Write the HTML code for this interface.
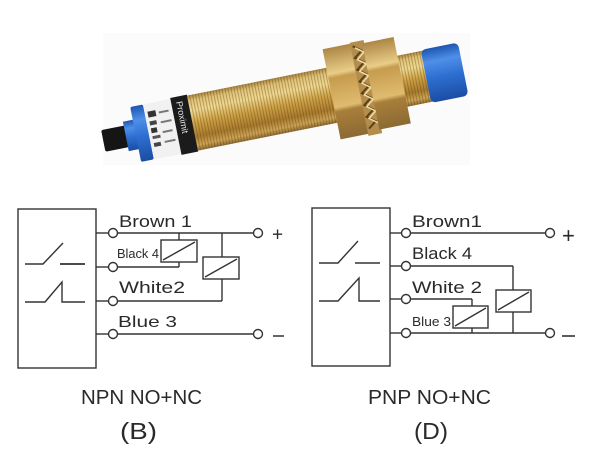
<!DOCTYPE html>
<html><head><meta charset="utf-8"><style>
html,body{margin:0;padding:0;background:#fff;}
svg{display:block;}
text{font-family:"Liberation Sans",Arial,sans-serif;fill:#2a2a2a;}
</style></head><body>
<svg width="600" height="469" viewBox="0 0 600 469" xmlns="http://www.w3.org/2000/svg">
<defs>
<linearGradient id="gold" x1="0" y1="0" x2="0" y2="1">
<stop offset="0" stop-color="#a8843c"/>
<stop offset="0.1" stop-color="#e0c47a"/>
<stop offset="0.28" stop-color="#f0da92"/>
<stop offset="0.5" stop-color="#cfa447"/>
<stop offset="0.75" stop-color="#a87b2e"/>
<stop offset="0.9" stop-color="#cda556"/>
<stop offset="1" stop-color="#8c6a30"/>
</linearGradient>
<linearGradient id="nut" x1="0" y1="0" x2="0" y2="1">
<stop offset="0" stop-color="#ad8645"/>
<stop offset="0.28" stop-color="#e8cd88"/>
<stop offset="0.33" stop-color="#c69c4e"/>
<stop offset="0.65" stop-color="#dfbb70"/>
<stop offset="0.7" stop-color="#a87e3a"/>
<stop offset="1" stop-color="#8c6a34"/>
</linearGradient>
<linearGradient id="blue" x1="0" y1="0" x2="0" y2="1">
<stop offset="0" stop-color="#1d56b0"/>
<stop offset="0.25" stop-color="#4f8fe8"/>
<stop offset="0.55" stop-color="#2e6fd2"/>
<stop offset="1" stop-color="#1a4ea3"/>
</linearGradient>
<pattern id="thr" patternUnits="userSpaceOnUse" width="3" height="10">
<line x1="0.5" y1="0" x2="0.5" y2="10" stroke="rgba(90,55,10,0.35)" stroke-width="1.1"/>
</pattern>
</defs>

<!-- photo background -->
<rect x="103" y="33" width="367" height="132" fill="#fbfbfb"/>

<!-- sensor -->
<g transform="translate(118,138) rotate(-11.3)">
<rect x="-15" y="-11" width="26" height="22" rx="2" fill="#151515"/>
<rect x="8" y="-15" width="14" height="30" fill="url(#blue)"/>
<rect x="18" y="-28" width="13" height="56" rx="2" fill="url(#blue)"/>
<rect x="31" y="-28" width="29" height="56" fill="#f1f1f1"/>
<rect x="34" y="-20" width="8" height="6" fill="#333"/>
<rect x="34" y="-10" width="7" height="4" fill="#444"/>
<rect x="34" y="-3" width="6" height="5" fill="#333"/>
<rect x="34" y="5" width="8" height="3" fill="#555"/>
<rect x="34" y="12" width="7" height="4" fill="#444"/>
<rect x="45" y="-18" width="10" height="2" fill="#777"/>
<rect x="45" y="-8" width="11" height="2" fill="#777"/>
<rect x="45" y="2" width="10" height="2" fill="#777"/>
<rect x="45" y="12" width="11" height="2" fill="#777"/>
<rect x="59" y="-29" width="17" height="58" fill="#1b1b1b"/>
<text x="-24" y="-64" transform="rotate(90)" font-size="9" style="fill:#e8e8e8">Proximit</text>
<rect x="76" y="-28" width="146" height="56" fill="url(#gold)"/>
<rect x="76" y="-28" width="146" height="56" fill="url(#thr)"/>
<rect x="288" y="-26" width="30" height="52" fill="url(#gold)"/>
<rect x="288" y="-26" width="30" height="52" fill="url(#thr)"/>
<rect x="218" y="-47" width="30" height="92" fill="url(#nut)"/>
<rect x="246" y="-48" width="14" height="95" fill="#b48c4c"/>
<polyline points="248,-44 256,-38 248,-32 256,-26 248,-20 256,-14 248,-8 256,-2 248,4 256,10 248,16 256,22 248,28 256,34 248,40" fill="none" stroke="#5a4218" stroke-width="2"/>
<polyline points="250,-42 258,-36 250,-30 258,-24 250,-18 258,-12 250,-6 258,0 250,6 258,12 250,18 258,24 250,30 258,36" fill="none" stroke="#f1dea6" stroke-width="1.5"/>
<rect x="258" y="-45" width="32" height="88" fill="url(#nut)"/>
<rect x="314" y="-27" width="38" height="54" rx="5" fill="url(#blue)"/>
</g>

<g stroke="#333" stroke-width="1.4" fill="none">
<!-- LEFT DIAGRAM -->
<rect x="18" y="209" width="78" height="159"/>
<line x1="96" y1="233" x2="108.5" y2="233"/>
<line x1="96" y1="267" x2="108.5" y2="267"/>
<line x1="96" y1="301" x2="108.5" y2="301"/>
<line x1="96" y1="334" x2="108.5" y2="334"/>
<circle cx="113" cy="233" r="4.5"/>
<circle cx="113" cy="267" r="4.5"/>
<circle cx="113" cy="301" r="4.5"/>
<circle cx="113" cy="334" r="4.5"/>
<line x1="117.5" y1="233" x2="253.5" y2="233"/>
<line x1="117.5" y1="267" x2="179" y2="267"/>
<line x1="117.5" y1="301" x2="222" y2="301"/>
<line x1="117.5" y1="334" x2="253.5" y2="334"/>
<circle cx="258" cy="233" r="4.5"/>
<circle cx="258" cy="334" r="4.5"/>
<rect x="161" y="240" width="36" height="22"/>
<line x1="163" y1="260" x2="195" y2="242"/>
<line x1="179" y1="233" x2="179" y2="240"/>
<line x1="179" y1="262" x2="179" y2="267"/>
<rect x="203" y="257" width="36" height="22"/>
<line x1="205" y1="277" x2="237" y2="259"/>
<line x1="222" y1="233" x2="222" y2="257"/>
<line x1="222" y1="279" x2="222" y2="301"/>
<polyline points="25,264 43,264 63,243"/>
<line x1="60" y1="264" x2="85" y2="264" stroke-width="1.8"/>
<polyline points="25,302 45,302 62,282 62,302 85,302"/>
<line x1="273" y1="336" x2="284" y2="336" stroke-width="1.5"/>

<!-- RIGHT DIAGRAM -->
<rect x="312" y="208" width="78" height="158"/>
<line x1="390" y1="233" x2="401.5" y2="233"/>
<line x1="390" y1="266" x2="401.5" y2="266"/>
<line x1="390" y1="299" x2="401.5" y2="299"/>
<line x1="390" y1="333" x2="401.5" y2="333"/>
<circle cx="406" cy="233" r="4.5"/>
<circle cx="406" cy="266" r="4.5"/>
<circle cx="406" cy="299" r="4.5"/>
<circle cx="406" cy="333" r="4.5"/>
<line x1="410.5" y1="233" x2="545.5" y2="233"/>
<line x1="410.5" y1="266" x2="513" y2="266"/>
<line x1="410.5" y1="299" x2="472" y2="299"/>
<line x1="410.5" y1="333" x2="545.5" y2="333"/>
<circle cx="550" cy="233" r="4.5"/>
<circle cx="550" cy="333" r="4.5"/>
<line x1="513" y1="266" x2="513" y2="290"/>
<rect x="496" y="290" width="35" height="22"/>
<line x1="498" y1="310" x2="529" y2="292"/>
<line x1="513" y1="312" x2="513" y2="333"/>
<line x1="472" y1="299" x2="472" y2="306"/>
<rect x="453" y="306" width="35" height="22"/>
<line x1="455" y1="326" x2="486" y2="308"/>
<line x1="472" y1="328" x2="472" y2="333"/>
<polyline points="319,263 338,263 358,241"/>
<line x1="355" y1="263" x2="380" y2="263"/>
<polyline points="319,301 338,301 359,278 359,301 380,301"/>
<line x1="562" y1="336" x2="575" y2="336" stroke-width="1.6"/>
</g>

<!-- LEFT LABELS -->
<text x="119" y="227" font-size="16.5" textLength="73" lengthAdjust="spacingAndGlyphs">Brown 1</text>
<text x="117" y="258" font-size="13" textLength="42" lengthAdjust="spacingAndGlyphs">Black 4</text>
<text x="119" y="293" font-size="16.5" textLength="66" lengthAdjust="spacingAndGlyphs">White2</text>
<text x="118" y="327" font-size="16" textLength="59" lengthAdjust="spacingAndGlyphs">Blue 3</text>
<text x="272" y="240.5" font-size="19">+</text>

<!-- RIGHT LABELS -->
<text x="412" y="227" font-size="16.5" textLength="70" lengthAdjust="spacingAndGlyphs">Brown1</text>
<text x="412" y="259" font-size="16.5" textLength="60" lengthAdjust="spacingAndGlyphs">Black 4</text>
<text x="412" y="293" font-size="16.5" textLength="70" lengthAdjust="spacingAndGlyphs">White 2</text>
<text x="412" y="326" font-size="13" textLength="39" lengthAdjust="spacingAndGlyphs">Blue 3</text>
<text x="562" y="243" font-size="22">+</text>

<!-- CAPTIONS -->
<text x="81" y="404" font-size="20.5" textLength="121" lengthAdjust="spacingAndGlyphs">NPN NO+NC</text>
<text x="368" y="404" font-size="20.5" textLength="123" lengthAdjust="spacingAndGlyphs">PNP NO+NC</text>
<text x="120" y="439" font-size="23" textLength="37" lengthAdjust="spacingAndGlyphs">(B)</text>
<text x="414" y="439" font-size="23" textLength="34" lengthAdjust="spacingAndGlyphs">(D)</text>
</svg>
</body></html>
